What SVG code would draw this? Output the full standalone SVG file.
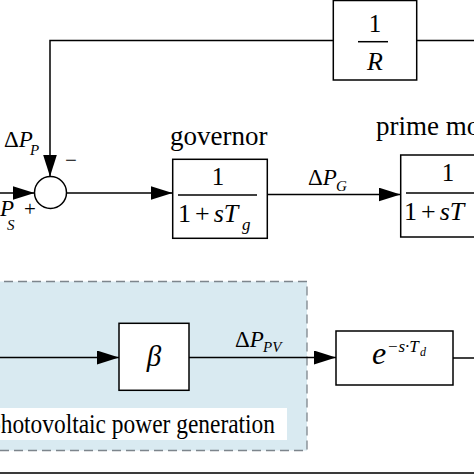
<svg xmlns="http://www.w3.org/2000/svg" width="474" height="474" viewBox="0 0 474 474">
<style>
.ln{fill:none;stroke:#000;stroke-width:1.5}
.box{fill:#fff;stroke:#000;stroke-width:1.5}
.t{font-family:"Liberation Serif","Times New Roman",serif;fill:#000}
.i{font-style:italic}
</style>
<defs>
<marker id="ah" markerUnits="userSpaceOnUse" markerWidth="23" markerHeight="15" refX="22" refY="7" orient="auto">
<path d="M0,0 L22,7 L0,14 z" fill="#000"/>
</marker>
</defs>
<rect x="0" y="0" width="474" height="474" fill="#fff"/>

<g id="pv-region">
<rect x="-10" y="281.5" width="317" height="169" fill="#d9eaf1" stroke="#7d858c" stroke-width="1.3" stroke-dasharray="9 5"/>
<rect x="-10" y="408" width="297" height="32" fill="#fff"/>
<text class="t" x="-11" y="433" font-size="27" textLength="286" lengthAdjust="spacingAndGlyphs">photovoltaic power generation</text>
</g>

<g id="connectors">
<polyline class="ln" points="333,40.5 50,40.5 50,176.5" marker-end="url(#ah)"/>
<line class="ln" x1="417" y1="40.5" x2="474" y2="40.5"/>
<line class="ln" x1="0" y1="193" x2="34.5" y2="193" marker-end="url(#ah)"/>
<line class="ln" x1="67" y1="193" x2="172.5" y2="193" marker-end="url(#ah)"/>
<line class="ln" x1="267" y1="194.5" x2="400.5" y2="194.5" marker-end="url(#ah)"/>
<line class="ln" x1="0" y1="357.5" x2="119" y2="357.5" marker-end="url(#ah)"/>
<line class="ln" x1="189" y1="357.5" x2="336" y2="357.5" marker-end="url(#ah)"/>
<line class="ln" x1="453" y1="358" x2="474" y2="358"/>
</g>

<g id="node-R">
<rect class="box" x="333.3" y="0.5" width="83.4" height="79.5"/>
<text class="t" x="375" y="32" font-size="25" text-anchor="middle">1</text>
<line class="ln" x1="358" y1="41.7" x2="388" y2="41.7" stroke-width="1.3"/>
<text class="t i" x="375" y="69.5" font-size="26" text-anchor="middle">R</text>
</g>

<g id="node-sum">
<circle cx="50.5" cy="192.5" r="16" fill="#fff" stroke="#000" stroke-width="1.5"/>
<text class="t" x="4" y="147" font-size="23">Δ<tspan class="i">P</tspan></text>
<text class="t i" x="30" y="155" font-size="15">P</text>
<text class="t" x="65" y="167" font-size="21">−</text>
<text class="t" x="24" y="216" font-size="21">+</text>
<text class="t" x="14" y="216" font-size="23" text-anchor="end">Δ<tspan class="i">P</tspan></text>
<text class="t i" x="7" y="230" font-size="15">S</text>
</g>

<g id="node-governor">
<text class="t" x="170" y="145" font-size="27">governor</text>
<rect class="box" x="172.7" y="159.3" width="94.6" height="79"/>
<text class="t" x="218" y="185" font-size="25" text-anchor="middle">1</text>
<line class="ln" x1="178" y1="195" x2="257" y2="195" stroke-width="1.3"/>
<text class="t" x="178" y="222" font-size="26">1<tspan dx="4">+</tspan><tspan class="i" dx="4">sT</tspan></text>
<text class="t i" x="242" y="230" font-size="17">g</text>
</g>

<text class="t" x="308" y="185" font-size="23">Δ<tspan class="i">P</tspan></text>
<text class="t i" x="336" y="191" font-size="15">G</text>

<g id="node-primemover">
<text class="t" x="376" y="135" font-size="27">prime mover</text>
<rect class="box" x="400.7" y="155" width="90" height="82"/>
<text class="t" x="448" y="181" font-size="25" text-anchor="middle">1</text>
<line class="ln" x1="406" y1="193" x2="490" y2="193" stroke-width="1.3"/>
<text class="t" x="404" y="220" font-size="26">1<tspan dx="4">+</tspan><tspan class="i" dx="4">sT</tspan></text>
</g>

<g id="node-beta">
<rect class="box" x="119" y="323.3" width="70" height="67"/>
<text class="t i" x="154" y="366" font-size="29" text-anchor="middle">β</text>
</g>

<text class="t" x="235" y="347" font-size="23">Δ<tspan class="i">P</tspan></text>
<text class="t i" x="263" y="352" font-size="15">PV</text>

<g id="node-delay">
<rect class="box" x="336" y="331" width="117" height="54"/>
<text class="t i" x="372" y="364" font-size="32">e</text>
<text class="t i" x="387" y="352" font-size="17">−s·T</text>
<text class="t i" x="420" y="356" font-size="12">d</text>
</g>

<rect x="0" y="472" width="474" height="2" fill="#3a3a3a"/>
</svg>
